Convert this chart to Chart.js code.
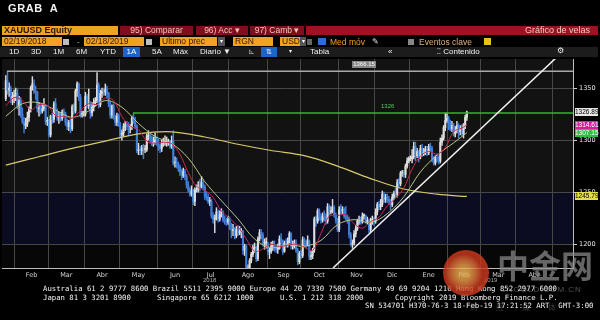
<!DOCTYPE html>
<html><head><meta charset="utf-8">
<script src="https://cdn.jsdelivr.net/npm/chart.js@4.4.1/dist/chart.umd.min.js"></script>
<style>
html,body{margin:0;padding:0;background:#000;width:600px;height:320px;overflow:hidden;}
#wrap{position:relative;width:600px;height:320px;}
#c{position:absolute;left:0;top:0;}
.t{position:absolute;white-space:pre;font-family:"Liberation Sans",sans-serif;line-height:1;}
.b{position:absolute;white-space:pre;overflow:hidden;font-family:"Liberation Sans",sans-serif;font-size:8.5px;height:9px;line-height:9px;}
.o{background:#efa323;color:#2e1800;padding-left:2px;box-sizing:border-box;}
.r{background:#7f0f1f;color:#f3c6b6;text-align:center;}
.w{color:#f0f0f0;font-size:8px;}
.f{position:absolute;white-space:pre;font-family:"DejaVu Sans Mono",monospace;font-size:7.3px;line-height:1;color:#f4f4f4;}
.tag{position:absolute;left:575px;width:23px;height:8px;line-height:8px;font-family:"Liberation Sans",sans-serif;font-size:6.5px;text-align:center;white-space:pre;}
</style></head><body>
<div id="wrap">
<canvas id="c" width="600" height="320"></canvas>

<div class="t" style="left:8px;top:3px;font-weight:bold;font-size:11px;color:#f2f2f2;letter-spacing:.6px">GRAB  A</div>

<div class="b o" style="left:2px;top:26px;width:116px;font-size:9px;font-weight:bold;">XAUUSD Equity</div>
<div class="b r" style="left:120px;top:26px;width:73px;">95) Comparar</div>
<div class="b r" style="left:196px;top:26px;width:52px;">96) Acc ▾</div>
<div class="b r" style="left:250px;top:26px;width:54px;">97) Camb ▾</div>
<div class="b" style="left:306px;top:26px;width:292px;background:#9c1324;color:#f6cabb;text-align:right;font-size:9px;padding-right:8px;box-sizing:border-box;">Gráfico de velas</div>

<div class="b o" style="left:2px;top:37px;width:60px;">02/19/2018</div>
<div class="b" style="left:63px;top:39px;width:6px;height:6px;background:#bdbdbd;"></div>
<div class="t" style="left:77px;top:38px;font-size:8px;color:#ccc;">-</div>
<div class="b o" style="left:84px;top:37px;width:60px;">02/18/2019</div>
<div class="b" style="left:146px;top:39px;width:6px;height:6px;background:#bdbdbd;"></div>
<div class="b o" style="left:160px;top:37px;width:57px;">Último prec</div>
<div class="b" style="left:218px;top:37px;width:7px;background:#555;color:#fff;font-size:6px;text-align:center;">▾</div>
<div class="b o" style="left:233px;top:37px;width:40px;">RGN</div>
<div class="b o" style="left:280px;top:37px;width:20px;">USD</div>
<div class="b" style="left:300px;top:37px;width:6px;background:#555;color:#fff;font-size:6px;text-align:center;">▾</div>
<div class="b" style="left:307px;top:39px;width:5px;height:6px;background:#666;"></div>
<div class="b" style="left:318px;top:38px;width:8px;height:7px;background:#2c6fd0;"></div>
<div class="t" style="left:330px;top:38px;font-size:8.5px;color:#eea024;">Med móv</div>
<div class="t" style="left:372px;top:38px;font-size:8px;color:#ddd;">✎</div>
<div class="b" style="left:408px;top:39px;width:6px;height:6px;background:#888;"></div>
<div class="t" style="left:419px;top:38px;font-size:8.5px;color:#e2b27c;">Eventos clave</div>
<div class="b" style="left:484px;top:38px;width:7px;height:7px;background:#e8c020;"></div>

<div class="b" style="left:0px;top:47px;width:598px;height:10px;background:#1c1c1c;"></div>
<div class="t w" style="left:9px;top:48px;">1D</div>
<div class="t w" style="left:31px;top:48px;">3D</div>
<div class="t w" style="left:53px;top:48px;">1M</div>
<div class="t w" style="left:76px;top:48px;">6M</div>
<div class="t w" style="left:100px;top:48px;">YTD</div>
<div class="b" style="left:123px;top:47px;width:17px;height:10px;line-height:10px;background:#1c64c8;color:#fff;font-size:8px;text-align:center;">1A</div>
<div class="t w" style="left:152px;top:48px;">5A</div>
<div class="t w" style="left:173px;top:48px;">Máx</div>
<div class="t w" style="left:200px;top:48px;">Diario ▼</div>
<div class="t w" style="left:248px;top:48px;color:#aaa;">⊾</div>
<div class="b" style="left:261px;top:47px;width:16px;height:10px;line-height:10px;background:#1c64c8;color:#fff;font-size:7px;text-align:center;">⇅</div>
<div class="t w" style="left:289px;top:48px;font-size:6px;">▾</div>
<div class="t w" style="left:310px;top:48px;">Tabla</div>
<div class="t w" style="left:388px;top:48px;">«</div>
<div class="t w" style="left:437px;top:48px;">⁚⁚ Contenido</div>
<div class="t w" style="left:557px;top:47px;">⚙</div>

<div id="tHi" class="tag" style="left:352px;width:24px;height:7px;line-height:7px;background:#858585;color:#fff;font-size:6px;">1366.15</div>
<div id="tRes" class="t" style="left:381px;font-size:6px;color:#55cc55;">1326</div>
<div id="tLast" class="tag" style="background:#e6e6e6;color:#000;">1326.89</div>
<div id="tMa1" class="tag" style="background:#d61e9c;color:#fff;">1314.61</div>
<div id="tMa2" class="tag" style="background:#2fbf3f;color:#fff;">1307.15</div>
<div id="tMa3" class="tag" style="background:#e4de4c;color:#000;">1245.79</div>

<div class="t" style="left:203px;top:277px;font-size:6px;color:#aaa;">2018</div>
<div class="t" style="left:484px;top:277px;font-size:6px;color:#aaa;">2019</div>

<div class="f" style="left:43px;top:285px;">Australia 61 2 9777 8600 Brazil 5511 2395 9000 Europe 44 20 7330 7500 Germany 49 69 9204 1210 Hong Kong 852 2977 6000</div>
<div class="f" style="left:43px;top:294px;">Japan 81 3 3201 8900</div>
<div class="f" style="left:157px;top:294px;">Singapore 65 6212 1000</div>
<div class="f" style="left:280px;top:294px;">U.S. 1 212 318 2000</div>
<div class="f" style="left:395px;top:294px;">Copyright 2019 Bloomberg Finance L.P.</div>
<div class="f" style="left:365px;top:302px;">SN 534701 H370-76-3 18-Feb-19 17:21:52 ART  GMT-3:00</div>

<div style="position:absolute;left:443px;top:250px;width:46px;height:46px;border-radius:50%;opacity:.82;background:radial-gradient(circle at 45% 50%,#f3c060 0,#eaa048 22%,#e0703a 38%,#c9371d 55%,#d5461f 100%);"></div>
<div class="t" style="left:497px;top:248px;font-family:'Noto Sans CJK SC';font-weight:bold;font-size:32px;color:rgba(140,140,140,0.72);">中金网</div>
<div class="t" style="left:500px;top:286px;font-size:8px;letter-spacing:1px;color:rgba(150,150,150,0.55);">CNGOLD.COM.CN</div>
<div class="t" style="left:470px;top:303px;font-family:'Noto Sans CJK SC';font-size:8px;letter-spacing:18px;color:rgba(150,150,150,0.35);">财经媒体</div>
</div>

<script>
// ---- DATA (XAUUSD daily) ----
const opens = [
 1340,1357,1348,1350,1340,1342,
 1343,1345,1333,1338,1325,1318,1314,1316,1322,1330,1350,1354,1347,1346,1330,1331,1328,1330,1332,1318,
 1318,1305,1323,1320,1335,1327,1322,1324,1321,1327,1325,1317,1313,1317,1311,1332,1328,1347,1354,1341,1325,1325,
 1325,1342,1333,1333,1326,1332,1336,1338,1353,1334,1345,1347,1346,1349,1345,1335,1324,1333,1322,1317,1323,
 1315,1305,1307,1313,1315,1314,1313,1313,1321,1318,1313,1290,1291,1290,1292,1291,1291,1304,1304,1301,1297,1298,1300,
 1298,1294,1292,1297,1298,1298,1298,1298,1294,1299,1278,1279,1277,1274,1269,1266,1270,1265,1257,1252,1248,
 1251,1241,1252,1253,1256,1255,1259,1255,1246,1245,1241,1241,1227,1224,1225,1231,1224,1228,1231,1223,1222,1221,
 1224,1217,1213,1214,1208,1214,1211,1212,1212,1194,1198,1173,1176,1184,1190,1196,1196,1186,1205,1211,1209,1201,1201,
 1201,1193,1193,1198,1199,1196,1195,1196,1205,1202,1193,1201,1199,1203,1210,1198,1199,1201,1194,1183,
 1191,1189,1204,1200,1199,1203,1188,1189,1194,1224,1222,1232,1226,1223,1227,1226,1222,1236,1231,1232,1235,1228,1223,
 1214,1233,1232,1233,1227,1226,1224,1209,1200,1201,1210,1215,1222,1223,1222,1227,1227,1222,1222,1214,1222,1224,
 1222,1231,1238,1236,1238,1248,1243,1245,1243,1241,1238,1245,1249,1248,1259,1258,1268,1268,1267,1275,1280,
 1282,1282,1284,1294,1285,1289,1284,1292,1287,1288,1291,1288,1294,1292,1282,1278,1283,1282,1280,1298,1302,1312,1319,
 1321,1317,1311,1314,1306,1309,1314,1308,1311,1306,1314,1322
];
const highs = [
 1362,1366,1355,1352,1346,1348,
 1350,1349,1342,1341,1331,1322,1321,1327,1332,1352,1361,1358,1352,1347,1336,1334,1335,1340,1334,1322,
 1320,1324,1326,1337,1340,1330,1327,1327,1329,1330,1327,1320,1319,1320,1334,1335,1349,1356,1355,1344,1328,1328,
 1346,1344,1349,1337,1336,1340,1341,1365,1355,1348,1350,1350,1354,1352,1346,1337,1334,1335,1324,1326,1325,
 1317,1310,1316,1318,1318,1317,1315,1323,1326,1322,1315,1297,1294,1295,1296,1295,1306,1309,1306,1304,1303,1307,1303,
 1301,1296,1300,1302,1304,1303,1301,1300,1304,1309,1284,1283,1279,1276,1272,1273,1272,1267,1260,1254,1256,
 1253,1254,1257,1260,1262,1265,1261,1257,1250,1248,1245,1243,1230,1228,1235,1233,1232,1234,1232,1227,1225,1227,
 1226,1220,1219,1216,1217,1218,1217,1215,1213,1200,1199,1180,1186,1192,1199,1201,1198,1207,1214,1214,1211,1205,1206,
 1202,1196,1202,1203,1203,1199,1200,1208,1210,1204,1203,1205,1206,1212,1211,1203,1204,1204,1196,1193,
 1194,1207,1206,1204,1208,1204,1193,1196,1226,1227,1234,1234,1229,1230,1232,1229,1239,1238,1236,1243,1237,1230,1225,
 1236,1238,1236,1235,1236,1228,1226,1211,1204,1213,1218,1224,1227,1226,1230,1229,1228,1226,1224,1225,1227,1226,
 1234,1240,1241,1243,1251,1250,1248,1248,1246,1243,1248,1251,1254,1262,1263,1270,1271,1271,1277,1283,1284,
 1285,1291,1298,1298,1292,1290,1295,1296,1292,1294,1294,1296,1297,1294,1284,1285,1286,1285,1302,1305,1314,1326,1326,
 1323,1319,1318,1316,1313,1318,1316,1314,1315,1316,1324,1328
];
const lows = [
 1338,1344,1342,1336,1334,1336,
 1338,1330,1324,1322,1316,1307,1311,1313,1318,1327,1348,1345,1339,1327,1323,1325,1326,1328,1315,1314,
 1303,1303,1316,1317,1323,1319,1316,1318,1319,1322,1314,1310,1309,1307,1309,1325,1326,1342,1338,1322,1322,1323,
 1323,1331,1330,1321,1323,1328,1333,1336,1331,1332,1341,1343,1343,1340,1332,1321,1321,1320,1314,1314,1313,
 1302,1300,1304,1309,1310,1305,1307,1310,1316,1311,1288,1286,1286,1286,1282,1288,1289,1300,1297,1295,1294,1296,1295,
 1290,1288,1289,1294,1295,1294,1295,1292,1292,1276,1274,1273,1270,1266,1262,1264,1262,1254,1250,1246,1246,
 1238,1237,1250,1250,1251,1254,1252,1243,1242,1239,1237,1225,1220,1211,1223,1221,1222,1226,1221,1219,1218,1219,
 1214,1206,1208,1205,1206,1208,1209,1206,1190,1189,1167,1160,1172,1182,1188,1192,1183,1184,1203,1205,1198,1195,1196,
 1190,1186,1191,1194,1193,1192,1191,1195,1200,1190,1192,1197,1197,1201,1195,1195,1196,1192,1180,1181,
 1186,1187,1197,1196,1198,1185,1185,1186,1192,1217,1220,1223,1220,1221,1222,1219,1220,1228,1229,1230,1226,1220,1212,
 1212,1229,1229,1225,1223,1220,1206,1198,1196,1199,1207,1213,1219,1219,1220,1224,1220,1219,1211,1212,1219,1218,
 1220,1228,1233,1233,1236,1240,1240,1240,1238,1233,1236,1243,1245,1245,1254,1256,1265,1264,1264,1273,1278,
 1280,1278,1282,1280,1283,1279,1282,1284,1285,1286,1285,1286,1289,1279,1276,1276,1279,1277,1278,1295,1300,1309,1317,
 1310,1309,1308,1304,1303,1307,1302,1305,1304,1302,1311,1319
];
const closes = [
 1357,1348,1350,1340,1342,1343,
 1345,1333,1338,1325,1318,1314,1316,1322,1330,1350,1354,1347,1346,1330,1331,1328,1330,1332,1318,1318,
 1305,1323,1320,1335,1327,1322,1324,1321,1327,1325,1317,1313,1317,1311,1332,1328,1347,1354,1341,1325,1325,1325,
 1342,1333,1333,1326,1332,1336,1338,1353,1334,1345,1347,1346,1349,1345,1335,1324,1333,1322,1317,1323,1315,
 1305,1307,1313,1315,1314,1313,1313,1321,1318,1313,1290,1291,1290,1292,1291,1291,1304,1304,1301,1297,1298,1300,1298,
 1294,1292,1297,1298,1298,1298,1298,1294,1299,1278,1279,1277,1274,1269,1266,1270,1265,1257,1252,1248,1251,
 1241,1252,1253,1256,1255,1259,1255,1246,1245,1241,1241,1227,1224,1225,1231,1224,1228,1231,1223,1222,1221,1224,
 1217,1213,1214,1208,1214,1211,1212,1212,1194,1198,1173,1176,1184,1190,1196,1196,1186,1205,1211,1209,1201,1201,1201,
 1193,1193,1198,1199,1196,1195,1196,1205,1202,1193,1201,1199,1203,1210,1198,1199,1201,1194,1183,1191,
 1189,1204,1200,1199,1203,1188,1189,1194,1224,1222,1232,1226,1223,1227,1226,1222,1236,1231,1232,1235,1228,1223,1214,
 1233,1232,1233,1227,1226,1224,1209,1200,1201,1210,1215,1222,1223,1222,1227,1227,1222,1222,1214,1222,1224,1222,
 1231,1238,1236,1238,1248,1243,1245,1243,1241,1238,1245,1249,1248,1259,1258,1268,1268,1267,1275,1280,1282,
 1282,1284,1294,1285,1289,1284,1292,1287,1288,1291,1288,1294,1292,1282,1278,1283,1282,1280,1298,1302,1312,1319,1321,
 1317,1311,1314,1306,1309,1314,1308,1311,1306,1314,1322,1327
];
// month start positions (trading-day index) and their labels
const monthStarts = [6,26,48,69,92,113,135,158,178,201,223,244,267,287,308,330];
const monthNames = ['Feb','Mar','Abr','May','Jun','Jul','Ago','Sep','Oct','Nov','Dic','Ene','Feb','Mar','Abr'];
const yTicks = [1200,1250,1300,1350];
// moving averages
const maShortIdx = [0,5,10,15,20,25,30,35,40,45,50,55,60,65,70,75,80,85,90,95,100,105,110,115,120,125,130,135,140,145,150,155,160,165,170,175,180,185,190,195,200,205,210,215,220,225,230,235,240,245,250,255,260,265,270,275,278];
const maShort = [1333,1341,1338,1329.1,1334,1333.4,1323.6,1322.9,1321,1328.5,1335,1334.3,1340.6,1338,1322.6,1313.5,1310,1299.1,1297,1297.9,1296.6,1286.4,1268.7,1255.5,1251.6,1244.9,1231.7,1224.6,1216.7,1204.9,1193.1,1195.4,1199.8,1197.7,1198.9,1200,1196.9,1194,1210,1226.9,1227.4,1228.3,1219.5,1215.3,1221.6,1225.8,1236.8,1243.8,1254.1,1272.3,1284.7,1289.2,1286.5,1292.8,1308,1311.7,1314.61];
const maMidIdx = [0,10,20,30,40,50,60,70,80,90,100,110,120,130,140,150,160,170,180,190,200,210,220,230,240,250,260,270,278];
const maMid = [1323,1335,1336,1328.8,1322,1328,1338,1331.6,1316,1303.5,1296.7,1282.7,1260,1241.7,1224.2,1204.9,1196.5,1199.4,1197.9,1203.5,1218.7,1223.5,1220.6,1229.2,1245.5,1269.4,1285.6,1297.3,1307.15];
const maLongIdx = [0,20,40,60,80,100,120,140,160,180,200,220,240,260,278];
const maLong = [1276,1284,1292,1299,1306,1308,1303,1296,1290,1285,1275,1263,1253,1248,1245.79];
const highLevel = 1366.15, highFrom = 0.7;
const resistance = 1326, resistanceFrom = 76.7;
const trendX = [197.3, 332.4], trendY = [1177, 1380];
const lastPrice = 1326.89;
const xMin = -2.3, xMax = 342, yMin = 1177, yMax = 1378;

// ---- CHART ----
const UP = '#dedede', DOWN = '#3f7fd8';
const upDown = c => closes[c.dataIndex] >= opens[c.dataIndex] ? UP : DOWN;
const bodies = closes.map((c,i)=>({x:i, y:[opens[i], c]}));
const wicks = closes.map((c,i)=>({x:i, y:[lows[i], highs[i]]}));
const pts = (xs, ys) => xs.map((x,k)=>({x, y:ys[k]}));

const xTicks = [];
monthStarts.forEach(s => xTicks.push({value: s-0.5, bnd:true, lbl:''}));
monthNames.forEach((n,k) => xTicks.push({value:(monthStarts[k]+monthStarts[k+1])/2-0.5, bnd:false, lbl:n}));
xTicks.sort((a,b)=>a.value-b.value);

const bgPlugin = {
  id:'bg',
  beforeDraw(chart){
    const {ctx, chartArea:a, scales:{y}} = chart;
    ctx.save();
    ctx.fillStyle = '#121212'; ctx.fillRect(a.left, a.top, a.width, a.bottom-a.top);
    const y1 = y.getPixelForValue(yTicks[1]), y2 = y.getPixelForValue(yTicks[0]);
    ctx.fillStyle = '#0b0b22'; ctx.fillRect(a.left, y1, a.width, y2-y1);
    ctx.fillStyle = '#070707'; ctx.fillRect(a.left, y2, a.width, a.bottom-y2);
    ctx.restore();
  }
};

const chart = new Chart(document.getElementById('c'), {
  type:'bar',
  data:{ datasets:[
    {type:'line', data:pts(trendX,trendY), borderColor:'#f2f2f2', borderWidth:1.5, pointRadius:0, order:0},
    {type:'line', data:pts(maShortIdx,maShort), borderColor:'#c42a4e', borderWidth:1, pointRadius:0, tension:0.35, order:1},
    {type:'line', data:pts(maMidIdx,maMid), borderColor:'#b4c884', borderWidth:1, pointRadius:0, tension:0.35, order:1},
    {type:'line', data:pts(maLongIdx,maLong), borderColor:'#d8ca6c', borderWidth:1.2, pointRadius:0, tension:0.35, order:1},
    {type:'line', data:[{x:highFrom,y:highLevel},{x:xMax,y:highLevel}], borderColor:'#a9a9a9', borderWidth:1.5, pointRadius:0, order:2},
    {type:'line', data:[{x:resistanceFrom,y:resistance},{x:xMax,y:resistance}], borderColor:'#2fb82f', borderWidth:1.5, pointRadius:0, order:2},
    {type:'bar', data:bodies, backgroundColor:upDown, barThickness:1.4, grouped:false, minBarLength:1, borderWidth:0, borderSkipped:false, order:3},
    {type:'bar', data:wicks, backgroundColor:upDown, barThickness:0.8, grouped:false, borderWidth:0, borderSkipped:false, order:4}
  ]},
  options:{
    responsive:false, animation:false, events:[],
    layout:{padding:{left:2, top:59, right:0, bottom:32}},
    plugins:{legend:{display:false}, tooltip:{enabled:false}},
    scales:{
      x:{ type:'linear', min:xMin, max:xMax, offset:false,
        afterBuildTicks: s => { s.ticks = xTicks.map(t=>({...t})); },
        afterFit: s => { s.height = 20; },
        ticks:{ autoSkip:false, maxRotation:0, minRotation:0, color:'#d4d4d4', padding:3,
          font:{size:6.5, family:'DejaVu Sans'},
          callback:(v,i,t)=> (t[i] && t[i].lbl) ? t[i].lbl : '' },
        grid:{ offset:false, drawTicks:false, lineWidth:1,
          color: c => (c.tick && c.tick.bnd) ? '#474747' : 'rgba(0,0,0,0)' },
        border:{ display:true, color:'#bdbdbd', width:1 }
      },
      y:{ position:'right', min:yMin, max:yMax,
        afterBuildTicks: s => { s.ticks = yTicks.map(v=>({value:v})); },
        afterFit: s => { s.width = 27; },
        ticks:{ color:'#e8e8e8', padding:2, font:{size:6.5, family:'DejaVu Sans'}, callback: v => String(v) },
        grid:{ color:'#474747', tickColor:'#cfcfcf', tickLength:4, drawTicks:true },
        border:{ display:true, color:'#bdbdbd', width:1 }
      }
    }
  },
  plugins:[bgPlugin]
});

// value tags positioned from the y scale
const ys = chart.scales.y;
const setTop = (id, v, dy) => { document.getElementById(id).style.top = (ys.getPixelForValue(v)+dy)+'px'; };
setTop('tHi', highLevel, -10);
setTop('tRes', resistance, -10);
setTop('tLast', lastPrice, -4);
setTop('tMa1', maShort[maShort.length-1], -4);
setTop('tMa2', maMid[maMid.length-1], -4);
setTop('tMa3', maLong[maLong.length-1], -4);
</script>
</body></html>
